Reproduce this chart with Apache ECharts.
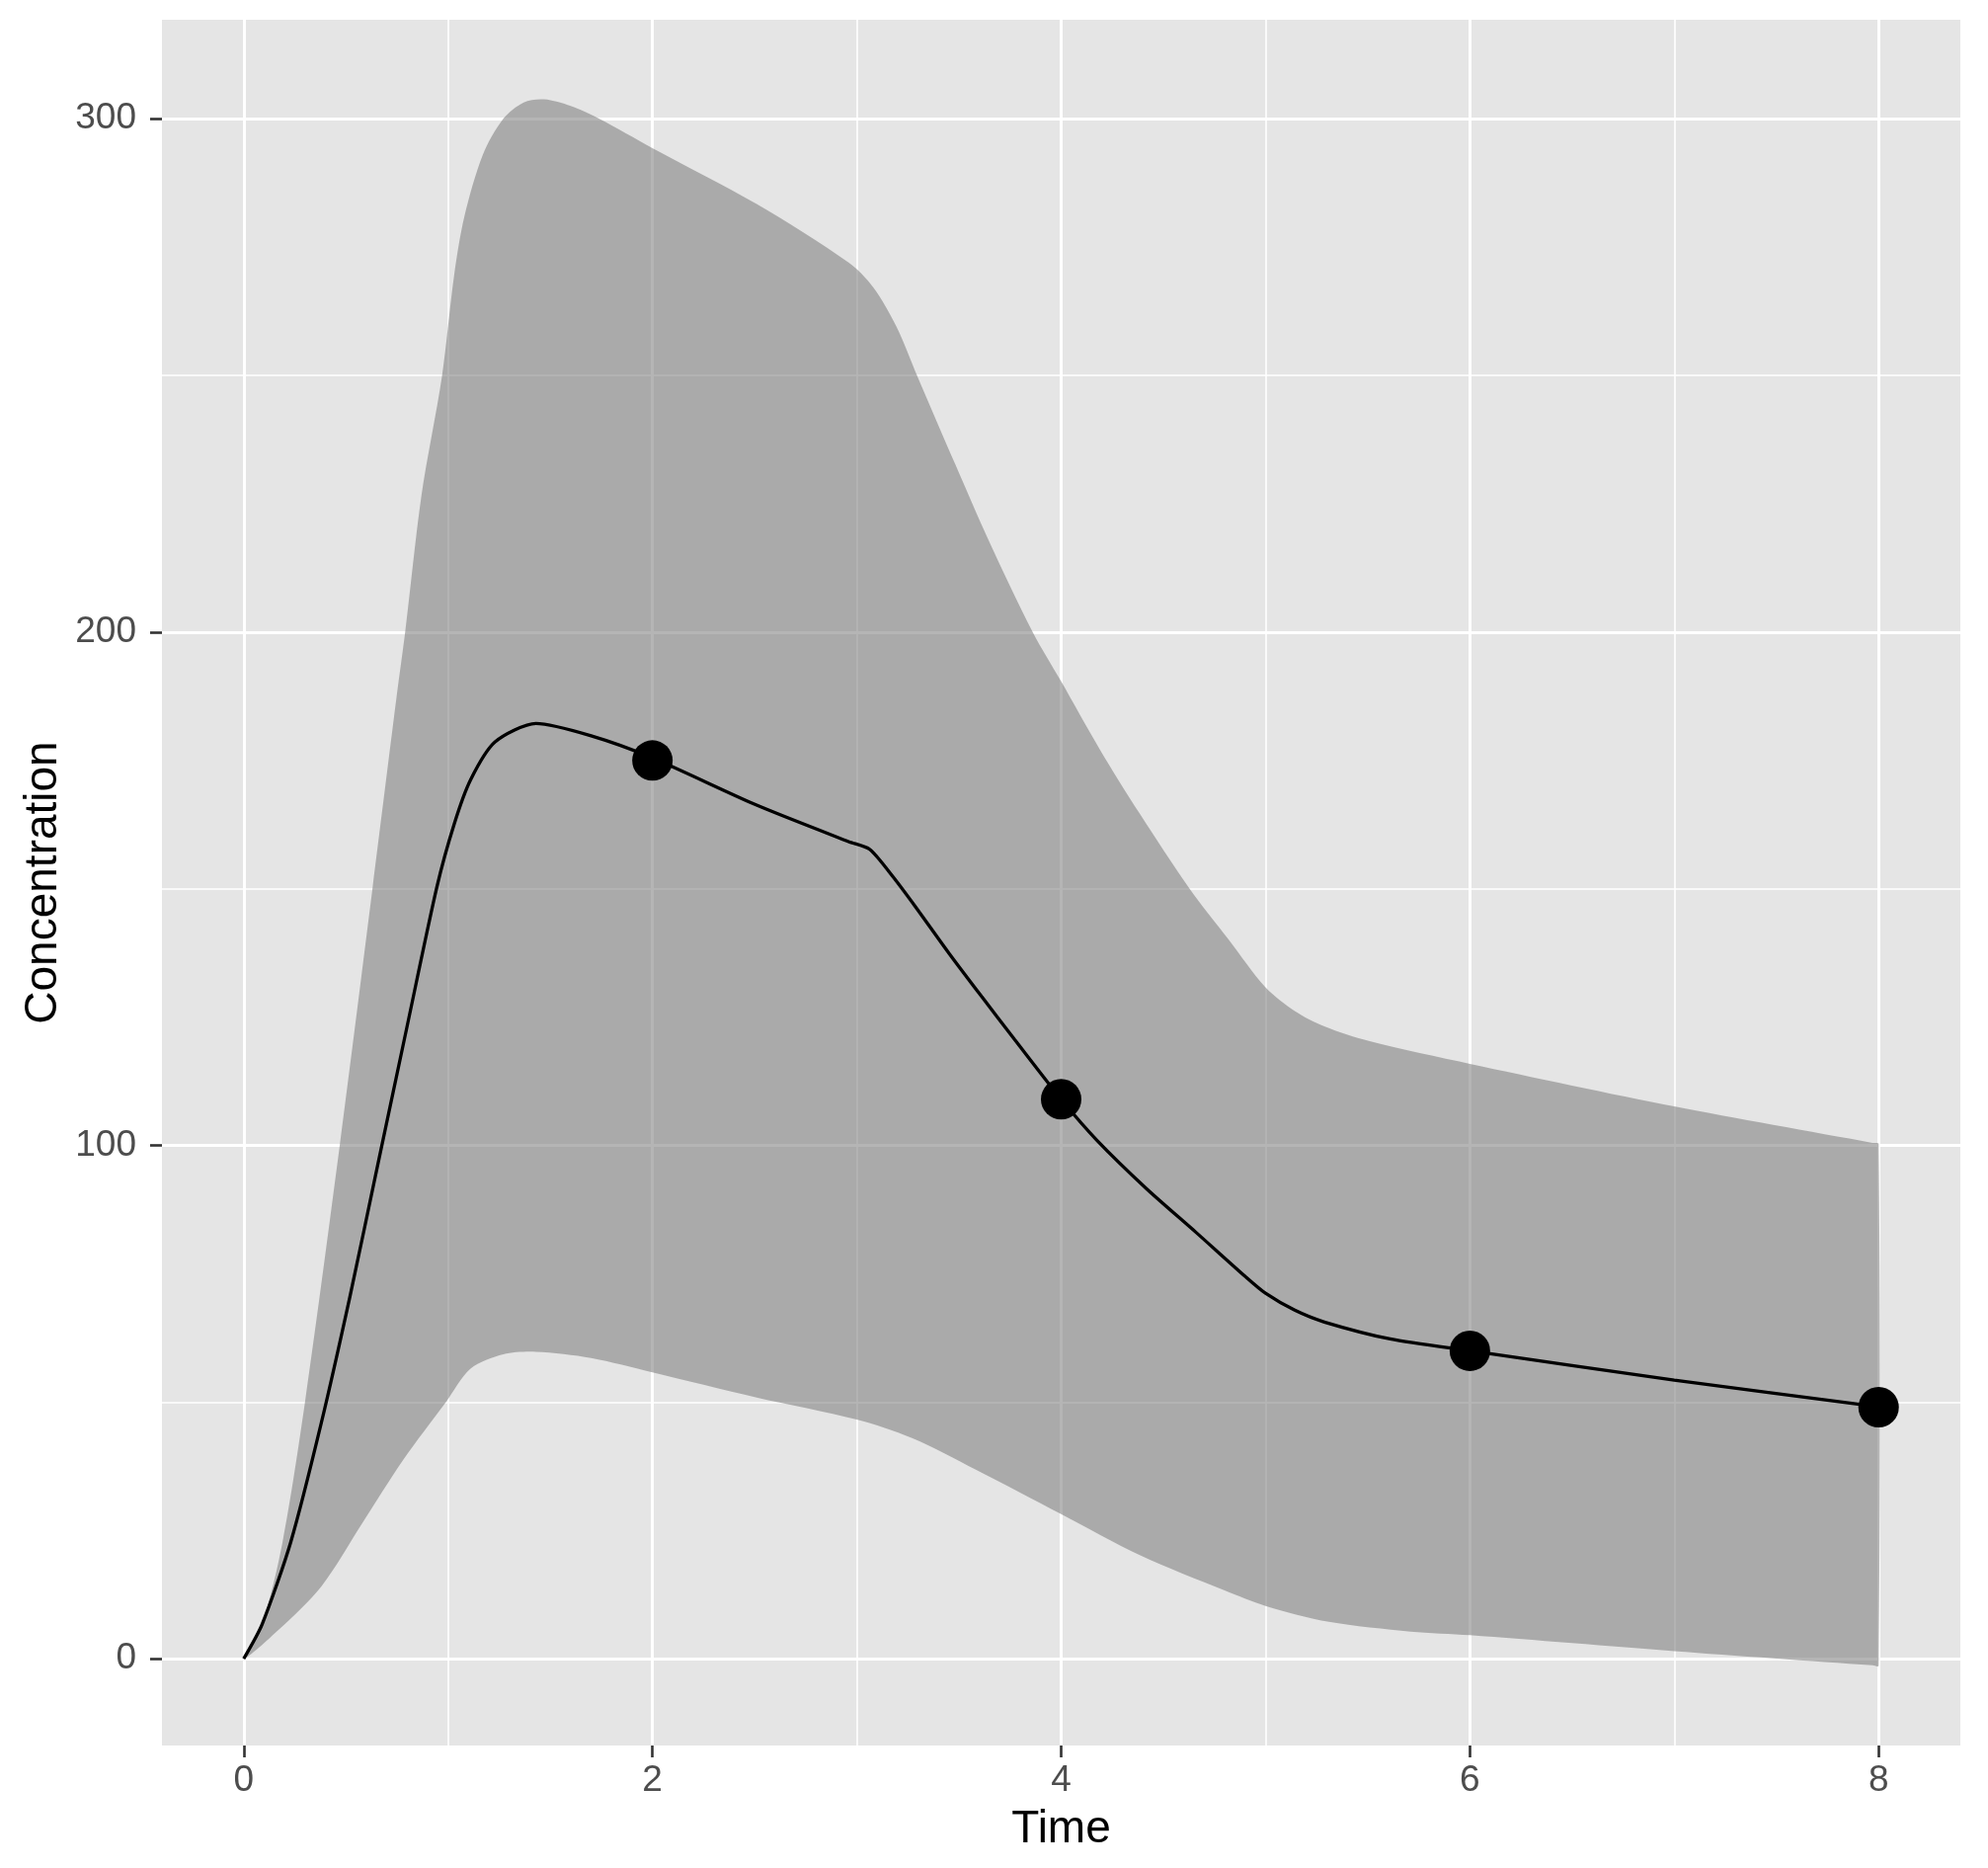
<!DOCTYPE html>
<html>
<head>
<meta charset="utf-8">
<script src="https://cdn.jsdelivr.net/npm/echarts@6/dist/echarts.min.js"></script>
<style>
html,body{margin:0;padding:0;background:#ffffff;}
#chart{width:2013px;height:1891px;}
</style>
</head>
<body>
<div id="chart"></div>
<script>
// ---- data ----
const meanTime = [0, 0.09, 0.23, 0.38, 0.52, 0.66, 0.80, 0.945, 1.03, 1.11, 1.23, 1.43, 1.70, 2.0, 2.51, 2.96, 3.063, 3.176, 3.289, 3.45, 3.611, 3.773, 4.0, 4.175, 4.417, 4.659, 4.9, 5.0, 5.143, 5.288, 5.61, 6.0, 7.0, 8.0];
const meanConc = [0, 6.7, 22.7, 46, 70.6, 97, 123.3, 150.3, 162.6, 171.2, 178.6, 182.2, 179.8, 175.5, 166.3, 159.2, 157.7, 152.4, 146.4, 137.5, 129.0, 120.6, 109, 101.0, 91.6, 83.1, 74.5, 71.2, 67.9, 65.6, 62.3, 60, 54.3, 49.1];

const upperTime = [0, 0.09, 0.19, 0.30, 0.47, 0.63, 0.75, 0.79, 0.87, 0.97, 1.03, 1.08, 1.17, 1.27, 1.37, 1.47, 1.60, 1.74, 2.0, 2.51, 2.96, 3.08, 3.193, 3.297, 3.483, 3.644, 3.861, 4.0, 4.19, 4.385, 4.627, 4.82, 5.0, 5.143, 5.288, 5.51, 6.0, 7.0, 7.97, 8.0];
const upperConc = [0, 6.7, 22.7, 50, 100, 150, 188, 200, 226.7, 249.8, 269.6, 281, 293, 300, 303.2, 303.8, 302.5, 300, 294.3, 283.4, 272, 267.2, 259.6, 249.8, 232.6, 218.0, 200, 190.4, 177.1, 164.6, 150.1, 140.1, 130.8, 126.2, 123.2, 120.3, 115.9, 107.6, 100.5, 100.3];

const lowerTime = [0, 0.17, 0.38, 0.58, 0.78, 0.99, 1.11, 1.27, 1.43, 1.70, 2.0, 2.51, 3.0, 3.27, 3.58, 4.0, 4.39, 4.80, 5.0, 5.31, 5.71, 6.0, 7.0, 7.97, 8.0];
const lowerConc = [0, 5.6, 14.1, 26.4, 38.7, 50, 56.5, 59.3, 59.8, 58.6, 55.8, 50.9, 46.6, 43, 36.9, 28.2, 20.1, 13.3, 10.3, 7.2, 5.3, 4.6, 1.5, -1.27, -1.35];

const obsTime = [2, 4, 6, 8];
const obsConc = [175, 109, 60, 49];

const xMajorTicks = [0, 2, 4, 6, 8];
const xMinorTicks = [1, 3, 5, 7];
const yMajorTicks = [0, 100, 200, 300];
const yMinorTicks = [50, 150, 250];

// ---- chart ----
const FONT = '"Liberation Sans", Arial, Helvetica, sans-serif';
const chart = echarts.init(document.getElementById('chart'), null, {renderer: 'canvas'});

const xRange = {min: -0.4, max: 8.4};
const yRange = {min: -16.9, max: 319.3};

const option = {
  backgroundColor: '#ffffff',
  animation: false,
  textStyle: {fontFamily: FONT},
  grid: {
    left: 164, right: 28, top: 20, bottom: 124,
    show: true, backgroundColor: '#E5E5E5', borderWidth: 0,
    containLabel: false, outerBoundsMode: 'none'
  },
  xAxis: [
    {
      type: 'value', min: xRange.min, max: xRange.max, position: 'bottom',
      axisLine: {show: false, onZero: false},
      axisTick: {show: true, length: 12, lineStyle: {color: '#333333', width: 2.6}, customValues: xMajorTicks},
      axisLabel: {show: true, customValues: xMajorTicks, fontSize: 37, color: '#4D4D4D', margin: 17, fontFamily: FONT},
      splitLine: {show: true, lineStyle: {color: '#FFFFFF', width: 3}},
      name: 'Time', nameLocation: 'middle', nameGap: 62, nameMoveOverlap: false,
      nameTextStyle: {fontSize: 46, color: '#000000', fontFamily: FONT}
    },
    {
      type: 'value', min: xRange.min, max: xRange.max, position: 'top',
      axisLine: {show: false, onZero: false},
      axisTick: {show: false, customValues: xMinorTicks},
      axisLabel: {show: false, customValues: xMinorTicks},
      splitLine: {show: true, lineStyle: {color: '#FFFFFF', width: 1.6}}
    }
  ],
  yAxis: [
    {
      type: 'value', min: yRange.min, max: yRange.max, position: 'left',
      axisLine: {show: false, onZero: false},
      axisTick: {show: true, length: 12, lineStyle: {color: '#333333', width: 2.6}, customValues: yMajorTicks},
      axisLabel: {show: true, customValues: yMajorTicks, fontSize: 37, color: '#4D4D4D', margin: 26, fontFamily: FONT},
      splitLine: {show: true, lineStyle: {color: '#FFFFFF', width: 3}},
      name: 'Concentration', nameLocation: 'middle', nameGap: 97, nameMoveOverlap: false,
      nameTextStyle: {fontSize: 46, color: '#000000', fontFamily: FONT}
    },
    {
      type: 'value', min: yRange.min, max: yRange.max, position: 'right',
      axisLine: {show: false, onZero: false},
      axisTick: {show: false, customValues: yMinorTicks},
      axisLabel: {show: false, customValues: yMinorTicks},
      splitLine: {show: true, lineStyle: {color: '#FFFFFF', width: 1.6}}
    }
  ],
  series: [
    {
      type: 'custom',
      name: 'band',
      xAxisIndex: 0, yAxisIndex: 0,
      silent: true,
      z: 2,
      data: [[0, 0]],
      encode: {x: 0, y: 1},
      renderItem: function (params, api) {
        const pts = [];
        for (let i = 0; i < upperTime.length; i++) pts.push(api.coord([upperTime[i], upperConc[i]]));
        for (let i = lowerTime.length - 1; i >= 1; i--) pts.push(api.coord([lowerTime[i], lowerConc[i]]));
        return {
          type: 'polygon',
          shape: {points: pts, smooth: 0.3},
          style: {fill: 'rgba(128,128,128,0.58)', stroke: null}
        };
      }
    },
    {
      type: 'line',
      name: 'mean',
      xAxisIndex: 0, yAxisIndex: 0,
      z: 3,
      showSymbol: false,
      smooth: 0.25,
      lineStyle: {color: '#000000', width: 3.3},
      data: meanTime.map((t, i) => [t, meanConc[i]])
    },
    {
      type: 'scatter',
      name: 'obs',
      xAxisIndex: 0, yAxisIndex: 0,
      z: 4,
      symbol: 'circle',
      symbolSize: 41,
      itemStyle: {color: '#000000', opacity: 1},
      data: obsTime.map((t, i) => [t, obsConc[i]])
    }
  ]
};
chart.setOption(option);
</script>
</body>
</html>
